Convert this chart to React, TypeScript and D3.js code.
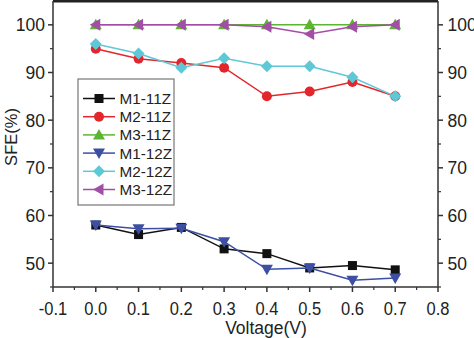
import React from "react";
import * as d3 from "d3";

const voltages = [0.0, 0.1, 0.2, 0.3, 0.4, 0.5, 0.6, 0.7];
const seriesNames = ["M1-11Z", "M2-11Z", "M3-11Z", "M1-12Z", "M2-12Z", "M3-12Z"];
const m1_11z = [58, 56, 57.5, 53, 52, 49, 49.5, 48.6];
const m2_11z = [95, 92.9, 92, 91, 85, 86, 88, 85];
const m3_11z = [100, 100, 100, 100, 100, 100, 100, 100];
const m1_12z = [58, 57.2, 57.3, 54.5, 48.7, 49, 46.4, 46.9];
const m2_12z = [96, 94, 91, 93, 91.3, 91.3, 89, 85];
const m3_12z = [100, 100, 100, 100, 99.6, 98.1, 99.6, 100];
const xTicks = [-0.1, 0.0, 0.1, 0.2, 0.3, 0.4, 0.5, 0.6, 0.7, 0.8];
const yTicks = [50, 60, 70, 80, 90, 100];

const colors = ["#111111", "#e3262b", "#5cb531", "#3c4fa3", "#5fc8d6", "#a24ea6"];
const markers = ["square", "circle", "triUp", "triDown", "diamond", "triLeft"];
const data = [m1_11z, m2_11z, m3_11z, m1_12z, m2_12z, m3_12z];

const W = 474, H = 338;
const left = 53, right = 438, top = 1, bottom = 287;
const FONT = "Liberation Sans, Arial, sans-serif";

function Marker({ kind, x, y, color }: { kind: string; x: number; y: number; color: string }) {
  switch (kind) {
    case "square":
      return <rect x={x - 4.5} y={y - 4.5} width={9} height={9} fill={color} />;
    case "circle":
      return <circle cx={x} cy={y} r={5} fill={color} />;
    case "triUp":
      return <path d={`M${x},${y - 6} L${x + 6},${y + 4.5} L${x - 6},${y + 4.5} Z`} fill={color} />;
    case "triDown":
      return <path d={`M${x},${y + 6} L${x + 6},${y - 4.5} L${x - 6},${y - 4.5} Z`} fill={color} />;
    case "diamond":
      return <path d={`M${x},${y - 6} L${x + 6},${y} L${x},${y + 6} L${x - 6},${y} Z`} fill={color} />;
    case "triLeft":
      return <path d={`M${x - 6},${y} L${x + 4.5},${y - 6} L${x + 4.5},${y + 6} Z`} fill={color} />;
  }
  return null;
}

export default function App() {
  const x = d3.scaleLinear().domain([-0.1, 0.8]).range([left, right]);
  const y = d3.scaleLinear().domain([45, 105]).range([bottom, top]);
  const line = d3
    .line<number>()
    .x((_, i) => x(voltages[i]))
    .y((d) => y(d));

  const xMinor = d3.range(-0.05, 0.8, 0.1);
  const yMinor = [45, 55, 65, 75, 85, 95];
  const axisColor = "#333";

  const legX = 78, legY = 79, legW = 96, legH = 126;

  return (
    <svg width={W} height={H} style={{ position: "absolute", left: 0, top: 0, background: "#fff" }}>
      {/* frame */}
      <line x1={left} x2={right} y1={top} y2={top} stroke="#222" strokeWidth={3} />
      <line x1={left} x2={left} y1={top} y2={bottom} stroke={axisColor} strokeWidth={1.5} />
      <line x1={right} x2={right} y1={top} y2={bottom} stroke={axisColor} strokeWidth={1.5} />
      <line x1={left} x2={right} y1={bottom} y2={bottom} stroke={axisColor} strokeWidth={1.5} />

      {/* x ticks */}
      {xTicks.map((t) => (
        <g key={"xt" + t}>
          <line x1={x(t)} x2={x(t)} y1={bottom} y2={bottom + 5} stroke={axisColor} strokeWidth={1.5} />
          <text
            transform={`translate(${x(t)},315) scale(1,1.1)`}
            textAnchor="middle"
            fontFamily={FONT}
            fontSize={16.5}
            fill="#222"
          >
            {t.toFixed(1)}
          </text>
        </g>
      ))}
      {xMinor.map((t) => (
        <line key={"xm" + t} x1={x(t)} x2={x(t)} y1={bottom} y2={bottom + 3} stroke={axisColor} strokeWidth={1.2} />
      ))}

      {/* y ticks */}
      {yTicks.map((t) => (
        <g key={"yt" + t}>
          <line x1={left - 5} x2={left} y1={y(t)} y2={y(t)} stroke={axisColor} strokeWidth={1.5} />
          <line x1={right} x2={right + 5} y1={y(t)} y2={y(t)} stroke={axisColor} strokeWidth={1.5} />
          <text
            transform={`translate(45,${y(t) + 6.5}) scale(1,1.05)`}
            textAnchor="end"
            fontFamily={FONT}
            fontSize={17.5}
            fill="#222"
          >
            {t}
          </text>
          <text
            transform={`translate(447.5,${y(t) + 6.5}) scale(1,1.05)`}
            textAnchor="start"
            fontFamily={FONT}
            fontSize={17.5}
            fill="#222"
          >
            {t}
          </text>
        </g>
      ))}
      {yMinor.map((t) => (
        <g key={"ym" + t}>
          <line x1={left - 3} x2={left} y1={y(t)} y2={y(t)} stroke={axisColor} strokeWidth={1.2} />
          <line x1={right} x2={right + 3} y1={y(t)} y2={y(t)} stroke={axisColor} strokeWidth={1.2} />
        </g>
      ))}

      {/* axis labels */}
      <text x={266} y={334} textAnchor="middle" fontFamily={FONT} fontSize={17.5} fill="#222">
        Voltage(V)
      </text>
      <text
        transform={`translate(17,137) rotate(-90)`}
        textAnchor="middle"
        fontFamily={FONT}
        fontSize={16.5}
        fill="#222"
      >
        SFE(%)
      </text>

      {/* series */}
      {data.map((vals, si) => (
        <g key={"s" + si}>
          <path d={line(vals) || ""} fill="none" stroke={colors[si]} strokeWidth={1.5} />
          {vals.map((v, i) => (
            <Marker key={i} kind={markers[si]} x={x(voltages[i])} y={y(v)} color={colors[si]} />
          ))}
        </g>
      ))}

      {/* legend */}
      <rect x={legX} y={legY} width={legW} height={legH} fill="#fff" stroke="#777" strokeWidth={1.2} />
      {seriesNames.map((n, i) => {
        const ly = 98.5 + i * 18.2;
        return (
          <g key={"l" + n}>
            <line x1={83} x2={115} y1={ly} y2={ly} stroke={colors[i]} strokeWidth={1.5} />
            <Marker kind={markers[i]} x={99} y={ly} color={colors[i]} />
            <text x={119.5} y={ly + 5.5} fontFamily={FONT} fontSize={15.3} fill="#222">
              {n}
            </text>
          </g>
        );
      })}
    </svg>
  );
}
